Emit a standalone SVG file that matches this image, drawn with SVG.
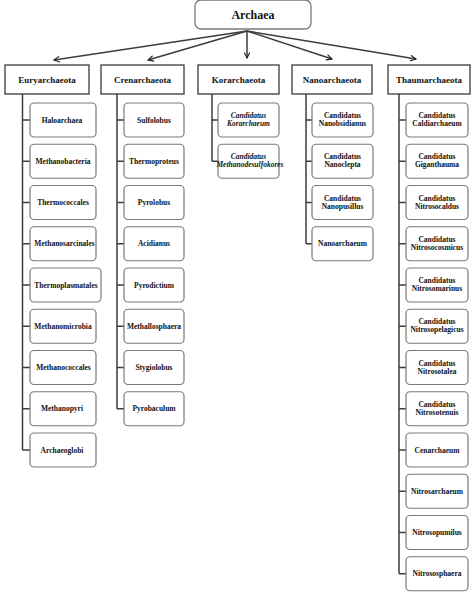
<svg xmlns="http://www.w3.org/2000/svg" width="474" height="592" viewBox="0 0 474 592">
<style>
text{font-family:"Liberation Serif","Times New Roman",serif;font-weight:bold;fill:#111;text-anchor:middle}
.root rect{fill:#fff;stroke:#7a7a7a;stroke-width:1.3}
.root text{font-size:12px}
.phy rect{fill:#fff;stroke:#3a3a3a;stroke-width:1.3}
.phy text{font-size:9px}
.leaf rect{fill:#fff;stroke:#7a7a7a;stroke-width:1.2}
.leaf text{font-size:7.5px}
.it{font-style:italic}
.conn line,.conn path{stroke:#3c3c3c;stroke-width:1.5;fill:none}
</style>
<defs>
<marker id="ah" viewBox="0 0 10 10" refX="9" refY="5" markerWidth="7" markerHeight="7" orient="auto" markerUnits="userSpaceOnUse">
<path d="M1,1 L9,5 L1,9" fill="none" stroke="#222" stroke-width="1.6"/>
</marker>
</defs>
<rect width="474" height="592" fill="#fff"/>
<g class="conn">
<line x1="247" y1="31" x2="54" y2="60" marker-end="url(#ah)"/>
<line x1="247" y1="31" x2="148" y2="60" marker-end="url(#ah)"/>
<line x1="247" y1="31" x2="247" y2="58" marker-end="url(#ah)"/>
<line x1="247" y1="31" x2="332" y2="59" marker-end="url(#ah)"/>
<line x1="247" y1="31" x2="416" y2="59" marker-end="url(#ah)"/>
<path d="M22.5,94 V450 M22.5,120 H30 M22.5,161.25 H30 M22.5,202.5 H30 M22.5,243.75 H30 M22.5,285 H30 M22.5,326.25 H30 M22.5,367.5 H30 M22.5,408.75 H30 M22.5,450 H30"/>
<path d="M117,94 V408.75 M117,120 H124 M117,161.25 H124 M117,202.5 H124 M117,243.75 H124 M117,285 H124 M117,326.25 H124 M117,367.5 H124 M117,408.75 H124"/>
<path d="M212,94 V161.25 M212,120 H218 M212,161.25 H218"/>
<path d="M306,94 V243.75 M306,120 H312 M306,161.25 H312 M306,202.5 H312 M306,243.75 H312"/>
<path d="M399,94 V573.75 M399,120 H406 M399,161.25 H406 M399,202.5 H406 M399,243.75 H406 M399,285 H406 M399,326.25 H406 M399,367.5 H406 M399,408.75 H406 M399,450 H406 M399,491.25 H406 M399,532.5 H406 M399,573.75 H406"/>
</g>
<g id="archaea" class="root"><rect x="195" y="0" width="116" height="29" rx="6"/><text x="253" y="19">Archaea</text></g>
<g id="euryarchaeota" class="phy"><rect x="5" y="65" width="84" height="29"/><text x="47" y="82.5">Euryarchaeota</text></g>
<g id="crenarchaeota" class="phy"><rect x="101" y="65" width="83" height="29"/><text x="142.5" y="82.5">Crenarchaeota</text></g>
<g id="korarchaeota" class="phy"><rect x="198" y="65" width="81" height="29"/><text x="238.5" y="82.5">Korarchaeota</text></g>
<g id="nanoarchaeota" class="phy"><rect x="292" y="65" width="80" height="29"/><text x="332" y="82.5">Nanoarchaeota</text></g>
<g id="thaumarchaeota" class="phy"><rect x="388" y="65" width="82" height="29"/><text x="429" y="82.5">Thaumarchaeota</text></g>
<g id="haloarchaea" class="leaf"><rect x="30" y="103" width="66" height="34" rx="4"/><text x="62" y="122.5">Haloarchaea</text></g>
<g id="methanobacteria" class="leaf"><rect x="30" y="144.25" width="66" height="34" rx="4"/><text x="63" y="163.75">Methanobacteria</text></g>
<g id="thermococcales" class="leaf"><rect x="30" y="185.5" width="66" height="34" rx="4"/><text x="63" y="205">Thermococcales</text></g>
<g id="methanosarcinales" class="leaf"><rect x="30" y="226.75" width="66" height="34" rx="4"/><text x="64.5" y="246.25">Methanosarcinales</text></g>
<g id="thermoplasmatales" class="leaf"><rect x="30" y="268" width="71" height="34" rx="4"/><text x="66" y="287.5">Thermoplasmatales</text></g>
<g id="methanomicrobia" class="leaf"><rect x="30" y="309.25" width="66" height="34" rx="4"/><text x="63" y="328.75">Methanomicrobia</text></g>
<g id="methanococcales" class="leaf"><rect x="30" y="350.5" width="66" height="34" rx="4"/><text x="63.5" y="370">Methanococcales</text></g>
<g id="methanopyri" class="leaf"><rect x="30" y="391.75" width="66" height="34" rx="4"/><text x="62" y="411.25">Methanopyri</text></g>
<g id="archaeoglobi" class="leaf"><rect x="30" y="433" width="66" height="34" rx="4"/><text x="62" y="452.5">Archaeoglobi</text></g>
<g id="sulfolobus" class="leaf"><rect x="124" y="103" width="60" height="34" rx="4"/><text x="154" y="122.5">Sulfolobus</text></g>
<g id="thermoproteus" class="leaf"><rect x="124" y="144.25" width="60" height="34" rx="4"/><text x="154" y="163.75">Thermoproteus</text></g>
<g id="pyrolobus" class="leaf"><rect x="124" y="185.5" width="60" height="34" rx="4"/><text x="154" y="205">Pyrolobus</text></g>
<g id="acidianus" class="leaf"><rect x="124" y="226.75" width="60" height="34" rx="4"/><text x="154" y="246.25">Acidianus</text></g>
<g id="pyrodictium" class="leaf"><rect x="124" y="268" width="60" height="34" rx="4"/><text x="154" y="287.5">Pyrodictium</text></g>
<g id="methallosphaera" class="leaf"><rect x="124" y="309.25" width="60" height="34" rx="4"/><text x="154" y="328.75">Methallosphaera</text></g>
<g id="stygiolobus" class="leaf"><rect x="124" y="350.5" width="60" height="34" rx="4"/><text x="154" y="370">Stygiolobus</text></g>
<g id="pyrobaculum" class="leaf"><rect x="124" y="391.75" width="60" height="34" rx="4"/><text x="154" y="411.25">Pyrobaculum</text></g>
<g id="korarchaeum" class="leaf"><rect x="218" y="103" width="61" height="34" rx="4"/><text class="it" x="248.5" y="118">Candidatus</text><text class="it" x="248.5" y="126">Korarchaeum</text></g>
<g id="methanodesulfokores" class="leaf"><rect x="218" y="144.25" width="61" height="34" rx="4"/><text class="it" x="248.5" y="159.25">Candidatus</text><text class="it" x="250" y="167.25">Methanodesulfokores</text></g>
<g id="nanobsidianus" class="leaf"><rect x="312" y="103" width="61" height="34" rx="4"/><text x="342.5" y="118">Candidatus</text><text x="342.5" y="126">Nanobsidianus</text></g>
<g id="nanoclepta" class="leaf"><rect x="312" y="144.25" width="61" height="34" rx="4"/><text x="342.5" y="159.25">Candidatus</text><text x="342.5" y="167.25">Nanoclepta</text></g>
<g id="nanopusillus" class="leaf"><rect x="312" y="185.5" width="61" height="34" rx="4"/><text x="342.5" y="200.5">Candidatus</text><text x="342.5" y="208.5">Nanopusillus</text></g>
<g id="nanoarchaeum" class="leaf"><rect x="312" y="226.75" width="61" height="34" rx="4"/><text x="342.5" y="246.25">Nanoarchaeum</text></g>
<g id="caldiarchaeum" class="leaf"><rect x="406" y="103" width="62" height="34" rx="4"/><text x="437" y="118">Candidatus</text><text x="437" y="126">Caldiarchaeum</text></g>
<g id="giganthauma" class="leaf"><rect x="406" y="144.25" width="62" height="34" rx="4"/><text x="437" y="159.25">Candidatus</text><text x="437" y="167.25">Giganthauma</text></g>
<g id="nitrosocaldus" class="leaf"><rect x="406" y="185.5" width="62" height="34" rx="4"/><text x="437" y="200.5">Candidatus</text><text x="437" y="208.5">Nitrosocaldus</text></g>
<g id="nitrosocosmicus" class="leaf"><rect x="406" y="226.75" width="62" height="34" rx="4"/><text x="437" y="241.75">Candidatus</text><text x="437" y="249.75">Nitrosocosmicus</text></g>
<g id="nitrosomarinus" class="leaf"><rect x="406" y="268" width="62" height="34" rx="4"/><text x="437" y="283">Candidatus</text><text x="437" y="291">Nitrosomarinus</text></g>
<g id="nitrosopelagicus" class="leaf"><rect x="406" y="309.25" width="62" height="34" rx="4"/><text x="437" y="324.25">Candidatus</text><text x="437" y="332.25">Nitrosopelagicus</text></g>
<g id="nitrosotalea" class="leaf"><rect x="406" y="350.5" width="62" height="34" rx="4"/><text x="437" y="365.5">Candidatus</text><text x="437" y="373.5">Nitrosotalea</text></g>
<g id="nitrosotenuis" class="leaf"><rect x="406" y="391.75" width="62" height="34" rx="4"/><text x="437" y="406.75">Candidatus</text><text x="437" y="414.75">Nitrosotenuis</text></g>
<g id="cenarchaeum" class="leaf"><rect x="406" y="433" width="62" height="34" rx="4"/><text x="437" y="452.5">Cenarchaeum</text></g>
<g id="nitrosarchaeum" class="leaf"><rect x="406" y="474.25" width="62" height="34" rx="4"/><text x="437" y="493.75">Nitrosarchaeum</text></g>
<g id="nitrosopumilus" class="leaf"><rect x="406" y="515.5" width="62" height="34" rx="4"/><text x="437" y="535">Nitrosopumilus</text></g>
<g id="nitrososphaera" class="leaf"><rect x="406" y="556.75" width="62" height="34" rx="4"/><text x="437" y="576.25">Nitrososphaera</text></g>
</svg>
